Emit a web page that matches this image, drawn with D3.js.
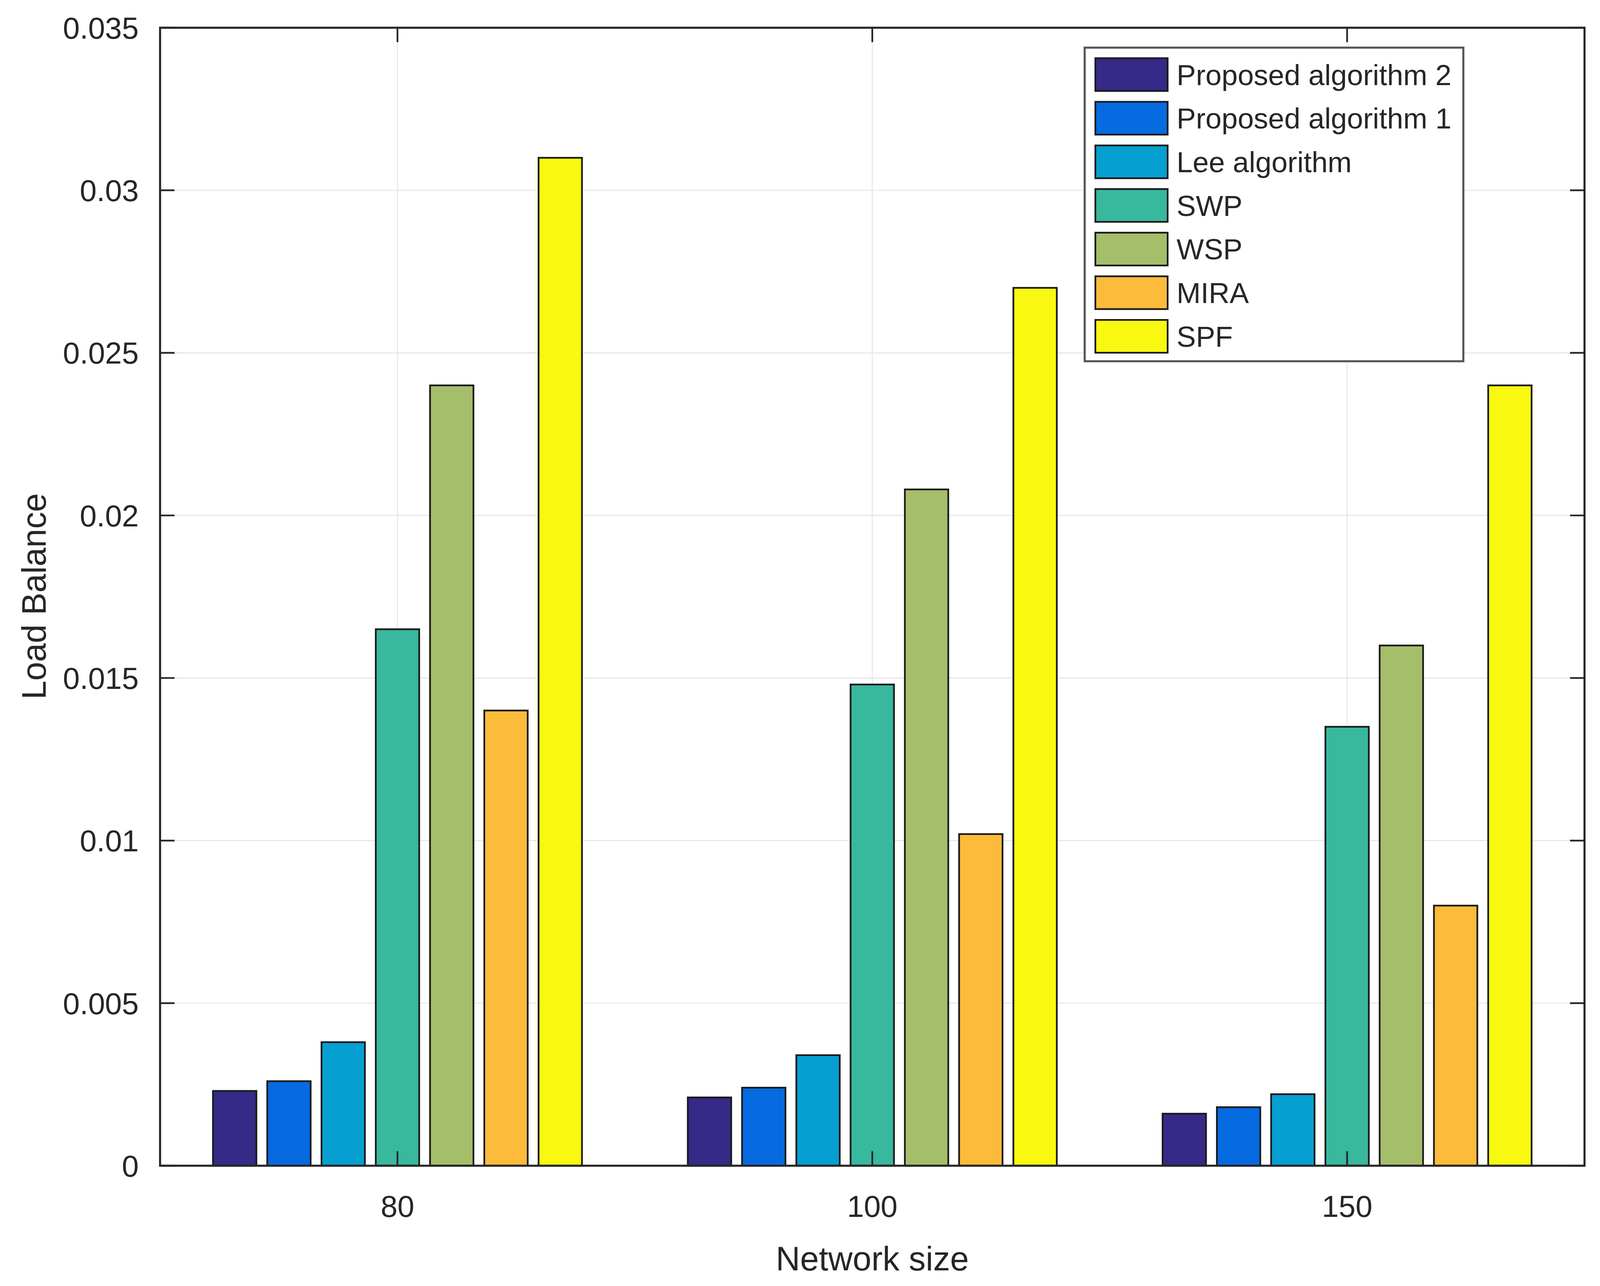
<!DOCTYPE html>
<html lang="en">
  <head>
    <meta charset="UTF-8" />
    <meta name="viewport" content="width=device-width, initial-scale=1.0" />
    <title>Load Balance</title>
    <style>
      html, body { margin: 0; padding: 0; background: #fff; overflow: hidden; }
      #chart svg { display: block; }
      svg text { font-family: "Liberation Sans", Arial, sans-serif; fill: #262626; }
    </style>
  </head>
  <body>
    <div id="chart"></div>
    <script src="https://cdn.jsdelivr.net/npm/d3@7"></script>
    <script>
      const categories = ["80", "100", "150"];
      const seriesNames = [
        "Proposed algorithm 2",
        "Proposed algorithm 1",
        "Lee algorithm",
        "SWP",
        "WSP",
        "MIRA",
        "SPF",
      ];
      const seriesColors = ["#352a87", "#066ae0", "#069fd1", "#38b89d", "#a5be6a", "#fdbb3b", "#f8f810"];
      // one row per series, values for 80 / 100 / 150
      const proposed2 = [0.0023, 0.0021, 0.0016];
      const proposed1 = [0.0026, 0.0024, 0.0018];
      const lee = [0.0038, 0.0034, 0.0022];
      const swp = [0.0165, 0.0148, 0.0135];
      const wsp = [0.024, 0.0208, 0.016];
      const mira = [0.014, 0.0102, 0.008];
      const spf = [0.031, 0.027, 0.024];
      const yTicks = [0, 0.005, 0.01, 0.015, 0.02, 0.025, 0.03, 0.035];

      const values = [proposed2, proposed1, lee, swp, wsp, mira, spf];

      (() => {
        // layout is measured on a 4648 x 3293 figure, then fitted to the window
        const W = window.innerWidth || 4648;
        const H = window.innerHeight || 3293;
        const sx = W / 4648, sy = H / 3293, k = Math.min(sx, sy);
        const plotL = 465 * sx, plotR = 4603 * sx, plotT = 71 * sy, plotB = 2985 * sy;

        const svg = d3.select("#chart").append("svg")
          .attr("width", W)
          .attr("height", H);

        const x = d3.scaleBand().domain(categories).range([plotL, plotR]).padding(0);
        const bw = x.bandwidth();
        const xi = d3.scaleBand()
          .domain(d3.range(seriesNames.length))
          .range([bw * 0.1, bw * 0.9])
          .paddingInner(0.2)
          .paddingOuter(0.1);
        const y = d3.scaleLinear().domain([0, 0.035]).range([plotB, plotT]);

        // grid
        const grid = svg.append("g");
        grid.selectAll("line.h").data(yTicks).join("line")
          .attr("x1", plotL).attr("x2", plotR)
          .attr("y1", d => y(d)).attr("y2", d => y(d))
          .attr("stroke", "#e6e6e6").attr("stroke-width", 3 * k);
        grid.selectAll("line.v").data(categories).join("line")
          .attr("x1", d => x(d) + bw / 2).attr("x2", d => x(d) + bw / 2)
          .attr("y1", plotT).attr("y2", plotB)
          .attr("stroke", "#e6e6e6").attr("stroke-width", 3 * k);

        // bars
        const bars = svg.append("g");
        values.forEach((row, i) => {
          bars.append("g").selectAll("rect").data(row).join("rect")
            .attr("x", (d, j) => x(categories[j]) + xi(i))
            .attr("width", xi.bandwidth())
            .attr("y", d => y(d))
            .attr("height", d => y(0) - y(d))
            .attr("fill", seriesColors[i])
            .attr("stroke", "#1a1a1a")
            .attr("stroke-width", 5 * k);
        });

        // box + inward ticks
        const axisColor = "#262626";
        const tl = 42 * k;
        const axG = svg.append("g");
        axG.selectAll("line.yt").data(yTicks).join("line")
          .attr("x1", plotL).attr("x2", plotL + tl)
          .attr("y1", d => y(d)).attr("y2", d => y(d))
          .attr("stroke", axisColor).attr("stroke-width", 5 * k);
        axG.selectAll("line.yt2").data(yTicks).join("line")
          .attr("x1", plotR).attr("x2", plotR - tl)
          .attr("y1", d => y(d)).attr("y2", d => y(d))
          .attr("stroke", axisColor).attr("stroke-width", 5 * k);
        axG.selectAll("line.xt").data(categories).join("line")
          .attr("x1", d => x(d) + bw / 2).attr("x2", d => x(d) + bw / 2)
          .attr("y1", plotB).attr("y2", plotB - tl)
          .attr("stroke", axisColor).attr("stroke-width", 5 * k);
        axG.selectAll("line.xt2").data(categories).join("line")
          .attr("x1", d => x(d) + bw / 2).attr("x2", d => x(d) + bw / 2)
          .attr("y1", plotT).attr("y2", plotT + tl)
          .attr("stroke", axisColor).attr("stroke-width", 5 * k);
        axG.append("rect")
          .attr("x", plotL).attr("y", plotT)
          .attr("width", plotR - plotL).attr("height", plotB - plotT)
          .attr("fill", "none").attr("stroke", axisColor).attr("stroke-width", 6 * k);

        // tick labels
        const fmt = d3.format("~g");
        svg.append("g").selectAll("text").data(yTicks).join("text")
          .attr("x", plotL - 62 * sx)
          .attr("y", d => y(d))
          .attr("dy", "0.36em")
          .attr("text-anchor", "end")
          .attr("font-size", 88 * k)
          .text(d => fmt(d));
        svg.append("g").selectAll("text").data(categories).join("text")
          .attr("x", d => x(d) + bw / 2)
          .attr("y", 3088 * sy)
          .attr("dy", "0.36em")
          .attr("text-anchor", "middle")
          .attr("font-size", 88 * k)
          .text(d => d);

        // axis titles
        svg.append("text")
          .attr("x", (plotL + plotR) / 2)
          .attr("y", 3222 * sy)
          .attr("dy", "0.36em")
          .attr("text-anchor", "middle")
          .attr("font-size", 98 * k)
          .text("Network size");
        svg.append("text")
          .attr("transform", `translate(${98 * sx}, ${1527 * sy}) rotate(-90)`)
          .attr("dy", "0.36em")
          .attr("text-anchor", "middle")
          .attr("font-size", 98 * k)
          .text("Load Balance");

        // legend
        const lg = svg.append("g");
        lg.append("rect")
          .attr("x", 3151 * sx).attr("y", 122 * sy)
          .attr("width", 1100 * sx).attr("height", 803 * sy)
          .attr("fill", "#fff").attr("stroke", "#555").attr("stroke-width", 6 * k);
        seriesNames.forEach((name, i) => {
          const cy = (191 + i * 111.7) * sy;
          lg.append("rect")
            .attr("x", 3182 * sx).attr("y", cy - 42 * sy)
            .attr("width", 210 * sx).attr("height", 84 * sy)
            .attr("fill", seriesColors[i])
            .attr("stroke", "#1a1a1a").attr("stroke-width", 5 * k);
          lg.append("text")
            .attr("x", 3418 * sx).attr("y", cy)
            .attr("dy", "0.36em")
            .attr("font-size", 84 * k)
            .text(name);
        });
      })();
    </script>
  </body>
</html>
